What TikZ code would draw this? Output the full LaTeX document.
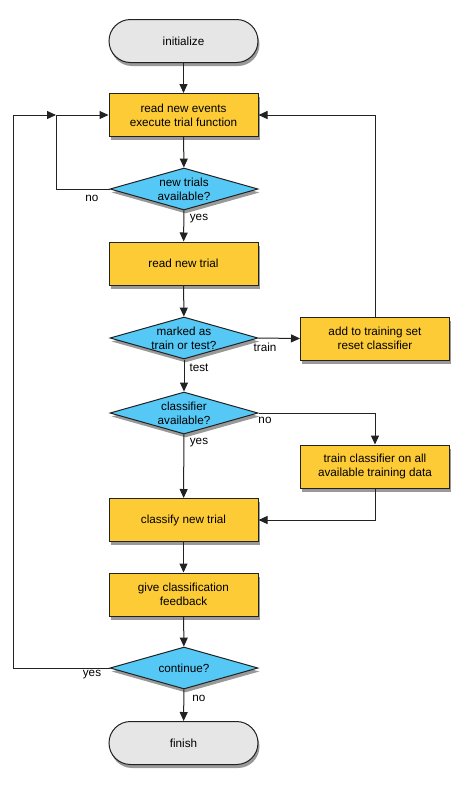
\documentclass[tikz,border=0pt]{standalone}
\usepackage{fontspec}
\setmainfont{Liberation Sans}
\usetikzlibrary{shapes.geometric,arrows.meta,shadows}
\definecolor{procfill}{HTML}{FDCB35}
\definecolor{decfill}{HTML}{55C8F5}
\definecolor{termfill}{HTML}{E6E6E6}
\definecolor{linec}{HTML}{222222}
\tikzset{
  base/.style={draw=linec, line width=1pt, font=\fontsize{11.7}{14}\selectfont, align=center,
    drop shadow={shadow xshift=1.5pt, shadow yshift=-3.5pt, opacity=0.4, fill=black}},
  proc/.style={base, rectangle, fill=procfill, minimum width=149pt, minimum height=43pt, inner sep=0pt},
  term/.style={base, rectangle, rounded corners=21.5pt, fill=termfill, minimum width=149pt, minimum height=43pt, inner sep=0pt},
  decision/.style={base, diamond, fill=decfill, aspect=3.52, minimum width=148pt, minimum height=42pt, inner sep=0pt},
  arr/.style={draw=linec, line width=1pt, -{Triangle[length=9pt,width=8pt]}},
  lbl/.style={font=\fontsize{11.7}{14}\selectfont, inner sep=0pt}
}
\begin{document}
\begin{tikzpicture}[x=1pt,y=-1pt]
\useasboundingbox (0,0) rectangle (474,793);
\node[term] (init) at (183.5,41) {initialize};
\node[proc] (b1) at (183.5,115) {read new events\\execute trial function};
\node[decision] (d1) at (184,189) {new trials\\available?};
\node[proc] (b2) at (183.5,263.5) {read new trial};
\node[decision] (d2) at (184,338) {marked as\\train or test?};
\node[proc] (r1) at (375,338.5) {add to training set\\reset classifier};
\node[decision] (d3) at (184,413) {classifier\\available?};
\node[proc] (r2) at (375,466.5) {train classifier on all\\available training data};
\node[proc] (b3) at (183.5,520) {classify new trial};
\node[proc] (b4) at (183.5,594.5) {give classification\\feedback};
\node[decision] (d4) at (184,668) {continue?};
\node[term] (fin) at (183.5,743) {finish};
\coordinate (j) at (56,115);
\coordinate (lft) at (13,115);

\draw[arr] (init) -- (b1);
\draw[arr] (b1) -- (d1);
\draw[arr] (d1.west) -| (j) -- (b1.west);
\draw[arr] (d1) -- (b2);
\draw[arr] (b2) -- (d2);
\draw[arr] (d2.east) -- (r1.west);
\draw[arr] (r1.north) |- (b1.east);
\draw[arr] (d2) -- (d3);
\draw[arr] (d3.east) -| (r2.north);
\draw[arr] (d3) -- (b3);
\draw[arr] (r2.south) |- (b3.east);
\draw[arr] (b3) -- (b4);
\draw[arr] (b4) -- (d4);
\draw[arr] (d4.west) -| (lft) -- (j);
\draw[arr] (d4) -- (fin);

\node[lbl] (l1) at (92,198) {no};
\node[lbl] (l2) at (199,219) {yes};
\node[lbl] (l3) at (265,347) {train};
\node[lbl] (l4) at (199,368) {test};
\node[lbl] (l5) at (265,420) {no};
\node[lbl] (l6) at (199,443) {yes};
\node[lbl] (l7) at (92,675) {yes};
\node[lbl] (l8) at (199,698) {no};
\end{tikzpicture}
\end{document}
